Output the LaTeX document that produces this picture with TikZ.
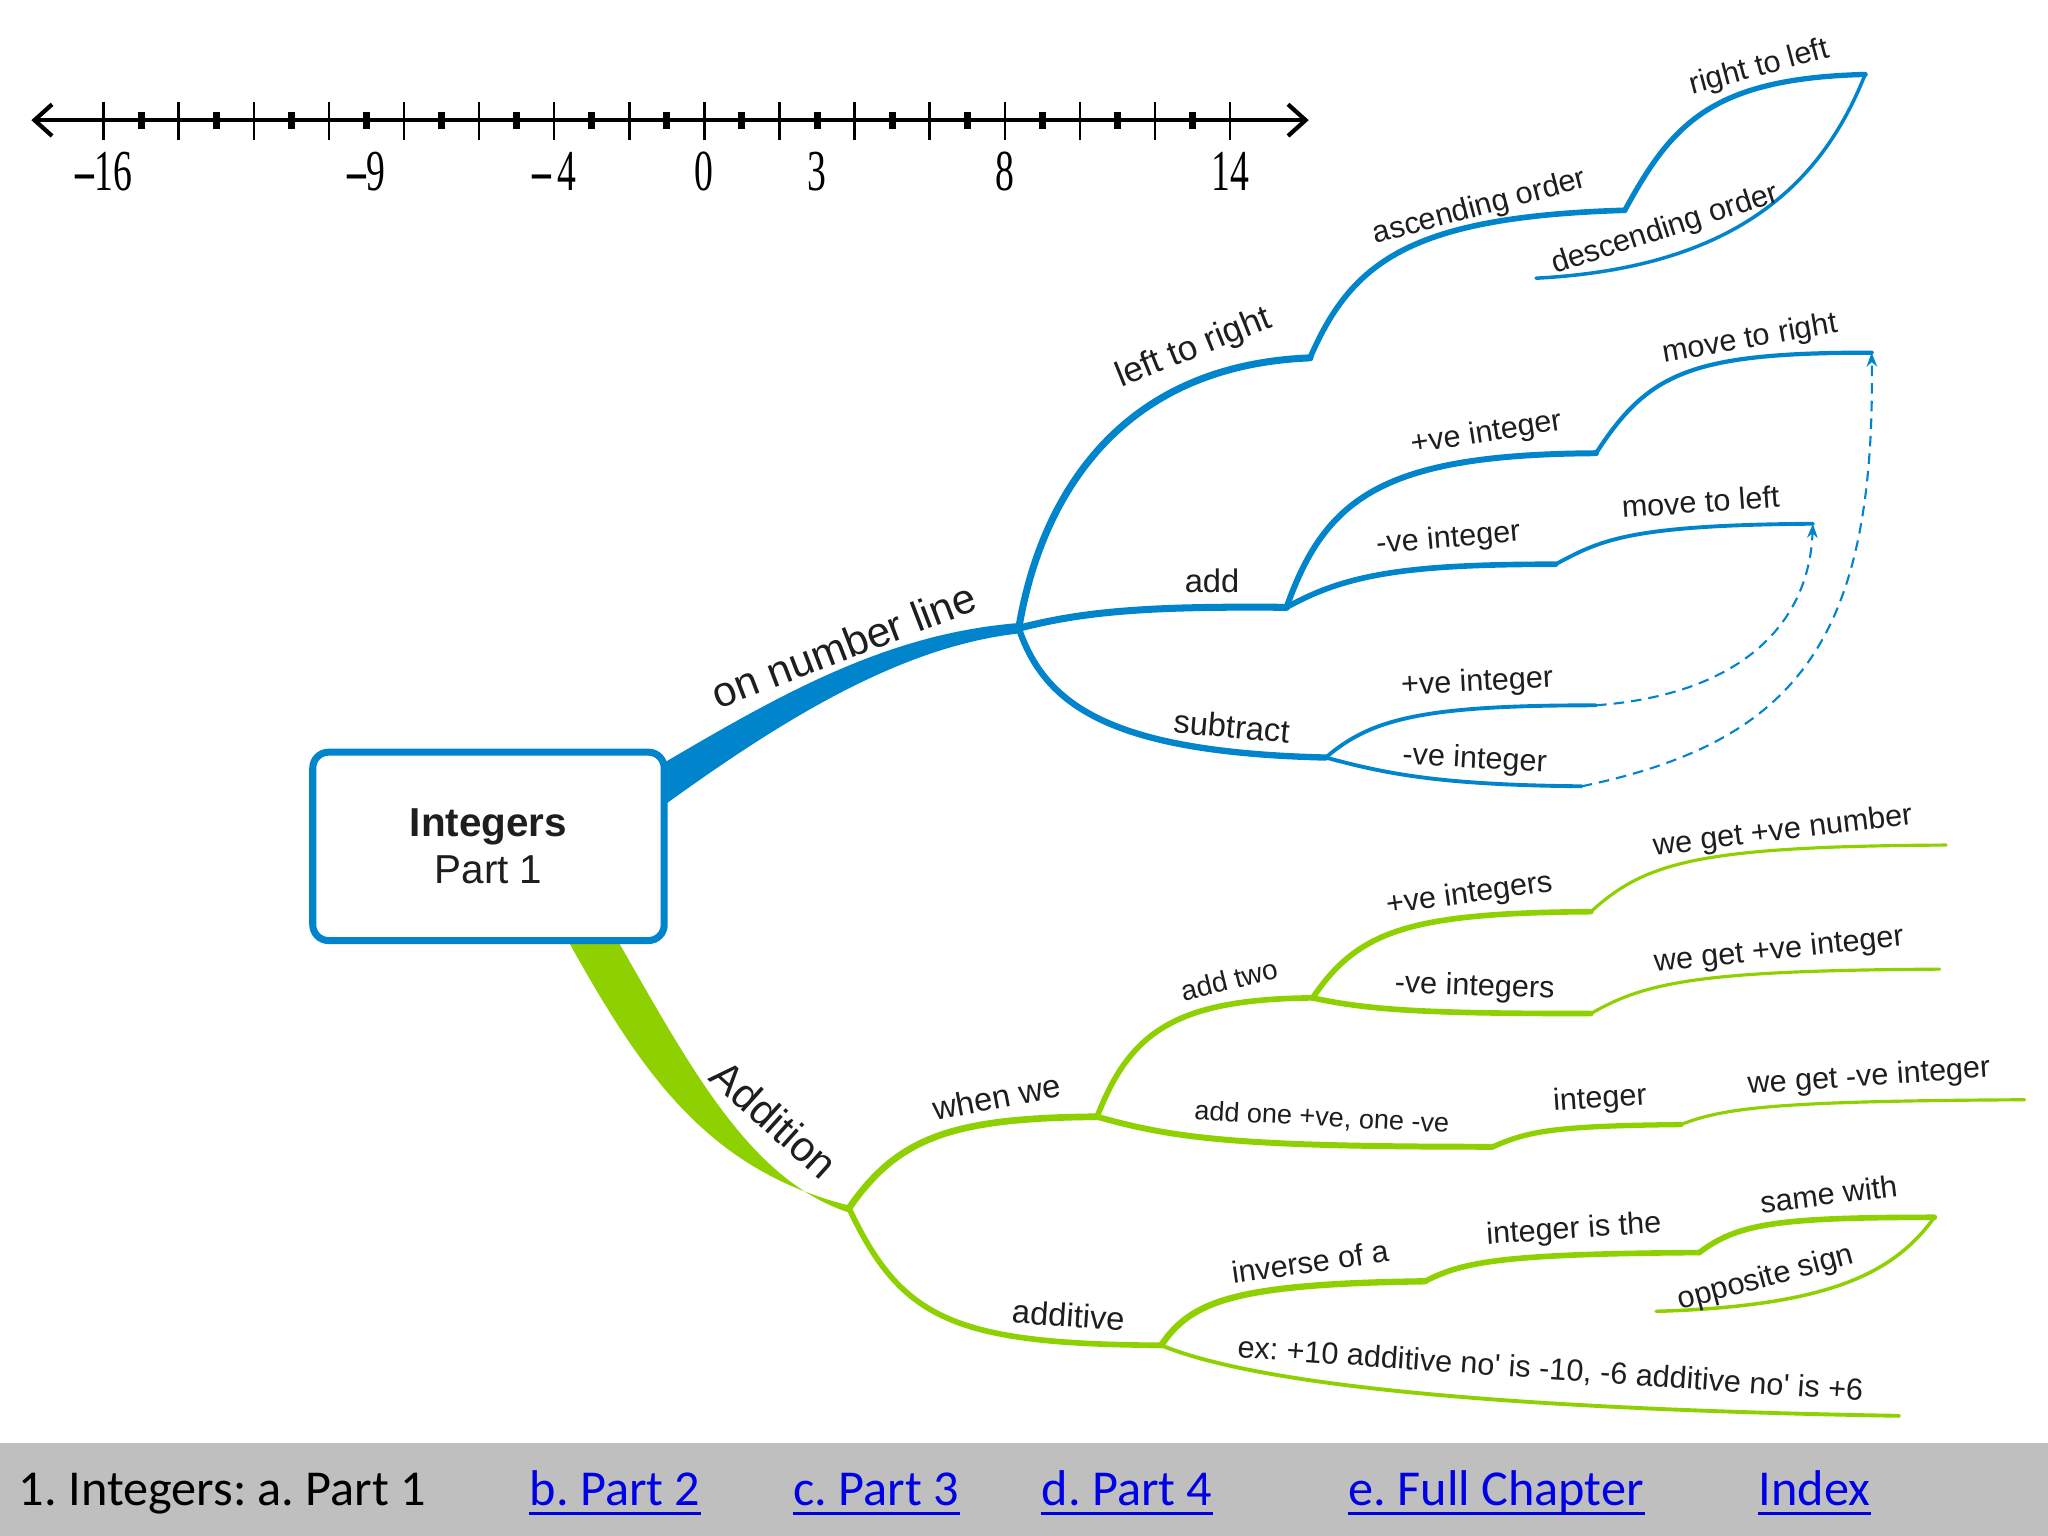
\documentclass[tikz,border=0pt]{standalone}
\usepackage{fontspec}
\newfontfamily\lblfont{Liberation Sans}
\newfontfamily\nlfont{Liberation Serif}
\newfontfamily\barfont{Carlito}
\usetikzlibrary{arrows.meta}
\definecolor{bluec}{RGB}{0,133,204}
\definecolor{greenc}{RGB}{142,208,0}
\definecolor{txt}{RGB}{30,30,30}
\definecolor{barc}{RGB}{191,191,191}
\definecolor{linkc}{RGB}{0,0,230}
\frenchspacing
\begin{document}
\frenchspacing
\begin{tikzpicture}[x=0.013061cm,y=-0.013061cm,
  lbl/.style={font=\lblfont\fontsize{#1}{#1}\selectfont, inner sep=0pt, text=txt},
  lbl/.default=8.7,
  bb/.style={draw=bluec, line cap=round, line width=#1},
  gb/.style={draw=greenc, line cap=round, line width=#1},
  numlbl/.style={font=\nlfont\fontsize{16.5}{16.5}\selectfont, xscale=0.65, inner sep=0pt},
  dasharrow/.style={draw=bluec, line width=0.6pt, dash pattern=on 3pt off 2pt, -{Stealth[length=4pt,width=3pt]}},
  barlbl/.style={font=\barfont\fontsize{14.3}{16}\selectfont, inner sep=0pt, anchor=base west},
  link/.style={barlbl, text=linkc},
  uline/.style={draw=linkc, line width=0.7pt},
]
\fill[white] (0,0) rectangle (1568,1176);
\useasboundingbox (0,0) rectangle (1568,1176);

% bottom bar
\fill[barc] (0,1105) rectangle (1568,1176);

% number line
\coordinate (nlL) at (24,92);
\coordinate (nlR) at (1002,92);
\draw[line width=1.2pt, {Straight Barb[length=5pt,width=9pt]}-{Straight Barb[length=5pt,width=9pt]}] (nlL) -- (nlR);
\foreach \k in {0,2,...,30} \draw[line width=0.7pt] ({79.3+28.75*\k},78) -- ({79.3+28.75*\k},107);
\foreach \k in {1,3,...,29} \draw[line width=2pt] ({79.3+28.75*\k},86) -- ({79.3+28.75*\k},99);
\node[numlbl] (n1) at (79.3,131) {\textbf{–}16};
\node[numlbl] (n2) at (280.5,131) {\textbf{–}9};
\node[numlbl] (n3) at (424.3,131) {\textbf{–}\,4};
\node[numlbl] (n4) at (539.3,131) {0};
\node[numlbl] (n5) at (625.5,131) {3};
\node[numlbl] (n6) at (769.3,131) {8};
\node[numlbl] (n7) at (941.8,131) {14};

% junctions
\coordinate (hubB) at (780,481);
\coordinate (kLR) at (1003,274);
\coordinate (kAsc) at (1244,161);
\coordinate (tipR) at (1428,57);
\coordinate (endDesc) at (1176,213);
\coordinate (kAdd) at (985,465);
\coordinate (kPve) at (1222,347);
\coordinate (endMR) at (1433,270);
\coordinate (kNve) at (1191,432);
\coordinate (endML) at (1388,401);
\coordinate (kSub) at (1015,580);
\coordinate (endSP) at (1222,540);
\coordinate (endSN) at (1211,602);

\coordinate (hubG) at (650,925);
\coordinate (kWhen) at (840,855);
\coordinate (kAddTwo) at (1005,764);
\coordinate (kPveI) at (1218,698);
\coordinate (endNum) at (1490,647);
\coordinate (kNveI) at (1218,776);
\coordinate (endInt) at (1485,742);
\coordinate (kOne) at (1143,878);
\coordinate (kInt) at (1287,861);
\coordinate (endNeg) at (1550,842);
\coordinate (kAdditive) at (889,1030);
\coordinate (kInv) at (1091,981);
\coordinate (kIsThe) at (1301,959);
\coordinate (tipSame) at (1481,932);
\coordinate (endOpp) at (1268,1004);
\coordinate (endEx) at (1454,1084);

% main bands
\fill[bluec] (505,586) .. controls (600,530) and (680,485) .. (780,477) -- (780,485) .. controls (690,495) and (600,550) .. (505,619) -- cycle;
\fill[greenc] (432,715) .. controls (490,820) and (540,895) .. (650,923) -- (652,929) .. controls (575,905) and (530,820) .. (470,715) -- cycle;

% central topic
\node[draw=bluec, line width=2pt, rounded corners=4.5pt, fill=white, minimum width=100pt, minimum height=53.6pt, align=center, inner sep=0pt, text=txt, font=\lblfont\fontsize{11.5}{13.4}\selectfont] (root) at (374,648) {{\bfseries Integers}\\Part 1};

% blue branches
\draw[bb=2pt] (hubB) .. controls (795,390) and (850,280) .. (kLR);
\draw[bb=1.6pt] (kLR) .. controls (1035,200) and (1080,166) .. (kAsc);
\draw[bb=1.5pt] (kAsc) .. controls (1280,95) and (1310,60) .. (tipR);
\draw[bb=1.0pt] (tipR) .. controls (1395,140) and (1330,205) .. (endDesc);
\draw[bb=2pt] (hubB) .. controls (830,468) and (880,464) .. (kAdd);
\draw[bb=1.7pt] (kAdd) .. controls (1015,380) and (1060,348) .. (kPve);
\draw[bb=1.2pt] (kPve) .. controls (1262,285) and (1295,270) .. (endMR);
\draw[bb=1.6pt] (kAdd) .. controls (1030,440) and (1075,432) .. (kNve);
\draw[bb=1.1pt] (kNve) .. controls (1225,414) and (1245,402) .. (endML);
\draw[bb=1.8pt] (hubB) .. controls (800,540) and (850,576) .. (kSub);
\draw[bb=1.1pt] (kSub) .. controls (1050,550) and (1090,540) .. (endSP);
\draw[bb=1.1pt] (kSub) .. controls (1060,592) and (1100,601) .. (endSN);
\draw[dasharrow] (endSP) .. controls (1330,532) and (1385,480) .. (endML);
\draw[dasharrow] (endSN) .. controls (1375,568) and (1436,490) .. (endMR);

% green branches
\draw[gb=1.9pt] (hubG) .. controls (688,870) and (730,856) .. (kWhen);
\draw[gb=1.6pt] (kWhen) .. controls (865,790) and (900,765) .. (kAddTwo);
\draw[gb=1.6pt] (kAddTwo) .. controls (1040,712) and (1080,699) .. (kPveI);
\draw[gb=0.9pt] (kPveI) .. controls (1260,660) and (1300,648) .. (endNum);
\draw[gb=1.6pt] (kAddTwo) .. controls (1050,774) and (1100,776) .. (kNveI);
\draw[gb=0.9pt] (kNveI) .. controls (1260,752) and (1300,743) .. (endInt);
\draw[gb=1.7pt] (kWhen) .. controls (900,872) and (950,878) .. (kOne);
\draw[gb=1.5pt] (kOne) .. controls (1170,866) and (1190,862) .. (kInt);
\draw[gb=0.9pt] (kInt) .. controls (1320,848) and (1360,843) .. (endNeg);
\draw[gb=1.6pt] (hubG) .. controls (690,1010) and (730,1029) .. (kAdditive);
\draw[gb=1.8pt] (kAdditive) .. controls (912,996) and (945,983) .. (kInv);
\draw[gb=1.6pt] (kInv) .. controls (1120,966) and (1150,960) .. (kIsThe);
\draw[gb=1.6pt] (kIsThe) .. controls (1330,937) and (1360,932) .. (tipSame);
\draw[gb=1.0pt] (tipSame) .. controls (1450,975) and (1400,1000) .. (endOpp);
\draw[gb=1.1pt] (kAdditive) .. controls (950,1055) and (1100,1078) .. (endEx);

% labels
\node[lbl=12, rotate=21] (l1) at (646,494) {on number line};
\node[lbl=12, rotate=-42] (l2) at (593,857) {Addition};
\node[lbl=10, rotate=22] (l3) at (914,267) {left to right};
\node[lbl, rotate=15] (l4) at (1133,159) {ascending order};
\node[lbl, rotate=15] (l5) at (1347,52) {right to left};
\node[lbl, rotate=18] (l6) at (1275,176) {descending order};
\node[lbl=9.3] (l7) at (928,445) {add};
\node[lbl, rotate=9] (l8) at (1138,332) {+ve integer};
\node[lbl, rotate=10] (l9) at (1340,260) {move to right};
\node[lbl, rotate=5] (l10) at (1109,413) {-ve integer};
\node[lbl, rotate=4] (l11) at (1302,384) {move to left};
\node[lbl=9.3, rotate=-5] (l12) at (943,556) {subtract};
\node[lbl, rotate=3] (l13) at (1131,523) {+ve integer};
\node[lbl, rotate=-3] (l14) at (1129,582) {-ve integer};
\node[lbl=9.3, rotate=11] (l15) at (763,840) {when we};
\node[lbl=8, rotate=14] (l16) at (941,750) {add two};
\node[lbl, rotate=8] (l17) at (1125,685) {+ve integers};
\node[lbl, rotate=7] (l18) at (1365,637) {we get +ve number};
\node[lbl, rotate=-2] (l19) at (1129,756) {-ve integers};
\node[lbl, rotate=6] (l20) at (1362,728) {we get +ve integer};
\node[lbl=7.7, rotate=-3] (l21) at (1012,856) {add one +ve, one -ve};
\node[lbl, rotate=4] (l22) at (1225,842) {integer};
\node[lbl, rotate=4] (l23) at (1431,825) {we get -ve integer};
\node[lbl=9.3, rotate=-4] (l24) at (818,1007) {additive};
\node[lbl, rotate=8] (l25) at (1003,966) {inverse of a};
\node[lbl, rotate=4] (l26) at (1205,942) {integer is the};
\node[lbl, rotate=7] (l27) at (1400,914) {same with};
\node[lbl, rotate=15] (l28) at (1352,979) {opposite sign};
\node[lbl, rotate=-4] (l29) at (1187,1049) {ex: +10 additive no' is -10, -6 additive no' is +6};

% bottom bar text
\node[barlbl] (b1) at (14,1153) {1. Integers: a. Part 1};
\node[link] (b2) at (405,1153) {b. Part 2};
\node[link] (b3) at (607,1153) {c. Part 3};
\node[link] (b4) at (797,1153) {d. Part 4};
\node[link] (b5) at (1032,1153) {e. Full Chapter};
\node[link] (b6) at (1346,1153) {Index};
\foreach \b in {b2,b3,b4,b5,b6}
  \draw[uline] ([yshift=-2.2pt]\b.base west) -- ([yshift=-2.2pt]\b.base east);
\end{tikzpicture}
\end{document}
